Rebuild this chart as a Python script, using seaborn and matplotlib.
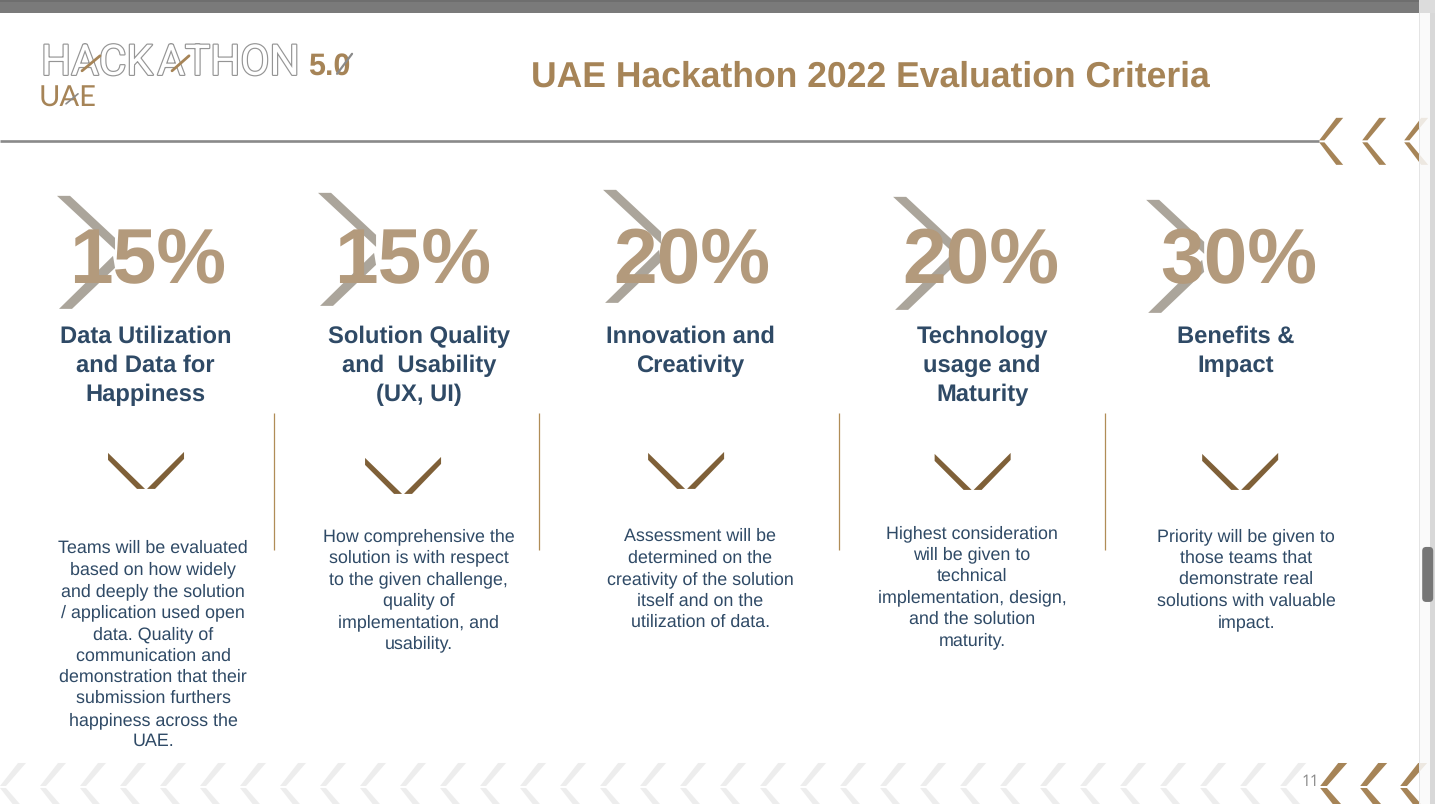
import matplotlib
matplotlib.use("Agg")
import matplotlib.pyplot as plt
import matplotlib.patheffects as pe
from matplotlib.patches import Polygon, Rectangle, FancyBboxPatch
import seaborn as sns

# ---------- data ----------
title = "UAE Hackathon 2022 Evaluation Criteria"
weights = [15, 15, 20, 20, 30]
criteria = [
    ["Data Utilization", "and Data for", "Happiness"],
    ["Solution Quality", "and  Usability", "(UX, UI)"],
    ["Innovation and", "Creativity"],
    ["Technology", "usage and", "Maturity"],
    ["Benefits &", "Impact"],
]
descriptions = [
    ["Teams will be evaluated", "based on how widely", "and deeply the solution",
     "/ application used open", "data. Quality of", "communication and",
     "demonstration that their", "submission furthers", "happiness across the", "UAE."],
    ["How comprehensive the", "solution is with respect", "to the given challenge,",
     "quality of", "implementation, and", "usability."],
    ["Assessment will be", "determined on the", "creativity of the solution",
     "itself and on the", "utilization of data."],
    ["Highest consideration", "will be given to", "technical",
     "implementation, design,", "and the solution", "maturity."],
    ["Priority will be given to", "those teams that", "demonstrate real",
     "solutions with valuable", "impact."],
]
logo_words = ["HACK", "ATHON"]
page_number = "11"

# ---------- layout ----------
W, H = 1435, 804
LOGO_X = [97, 228.5]
PCT_X = [148, 412.5, 692, 980.5, 1239]
BIG_CHEV = [(57, 196), (318, 193), (603, 190), (893, 197), (1146, 200)]
CRIT_X = [145.5, 419, 690, 982, 1236]
V_X = [146, 403, 686, 972.5, 1240]
V_Y = [452, 457, 452, 453, 453]
DESC_X = [153, 418.5, 700, 972, 1246]
DESC_Y = [553, 541, 541, 538, 541]
DIVIDERS = [274, 539, 839, 1105]

NAVY = "#2F4A66"
TAN = "#B39A7C"
GOLD = "#A68457"
BROWN = "#7F6038"
CHEV = "#ABA59B"
FONT = "Liberation Sans"

sns.set_theme(style="white")
plt.rcParams["font.family"] = [FONT, "DejaVu Sans"]
plt.rcParams["text.hinting"] = "no_hinting"

fig = plt.figure(figsize=((W + 0.2) / 100, (H + 0.2) / 100), dpi=100, facecolor="white")
ax = fig.add_axes([0, 0, 1, 1])
ax.set_xlim(0, W)
ax.set_ylim(H, 0)
ax.axis("off")
sns.despine(ax=ax, left=True, bottom=True)


def poly(pts, color, z=1, alpha=None):
    ax.add_patch(Polygon(pts, closed=True, fc=color, ec="none", zorder=z, alpha=alpha))


def chevron_left(x, top, color, w=24, h=47, t=7, z=1):
    """'<' chevron, tip on the left, small gap at the middle."""
    mid = top + h / 2
    gap = 1.0
    poly([(x + w - t, top), (x + w, top), (x + t * 0.75, mid - gap), (x, mid - gap)], color, z)
    poly([(x + w - t, top + h), (x + w, top + h), (x + t * 0.75, mid + gap), (x, mid + gap)], color, z)


# top browser bar
ax.add_patch(Rectangle((0, 0), 1419, 13, fc="#7A7A7A", ec="none", zorder=1))
ax.add_patch(Rectangle((0, 0), 1419, 2, fc="#6E6E6E", ec="none", zorder=1))

# footer watermark chevrons
for x in range(0, 1281, 40):
    chevron_left(x, 763, "#EDEDED", w=26, h=48, t=8)
# footer gold chevrons
for x in (1320, 1360, 1400):
    chevron_left(x, 763, GOLD, w=27, h=48, t=9)

# header rule and gold chevrons
ax.plot([0, 1319], [141, 141], color="#8A8A8A", lw=1.9, solid_capstyle="butt", zorder=1)
for x in (1319, 1362, 1404):
    chevron_left(x, 118, GOLD, w=24, h=47, t=7)

# logo
stroke = [pe.withStroke(linewidth=1.7, foreground="#959595")]
for lx, word in zip(LOGO_X, logo_words):
    ax.text(lx, 75, word, fontsize=30.5, family="Roboto",
            color="white", path_effects=stroke, va="baseline", ha="center", zorder=3)
ax.plot([82, 100], [71, 56], color=GOLD, lw=2, zorder=4)
ax.plot([172, 189], [71, 56], color=GOLD, lw=2, zorder=4)
ax.text(308, 75, "5.0", fontsize=22, fontweight="bold", color=GOLD,
        va="baseline", ha="left", zorder=3)
ax.plot([337, 352], [74, 54], color="#8A8A8A", lw=1.6, zorder=4)
ax.text(39, 107, "UAE", fontsize=21, family="Lato", color=GOLD, va="baseline", ha="left", zorder=3)
ax.plot([66, 78], [104, 94], color="#8A8A8A", lw=1.2, zorder=4)

# title
ax.text(870, 87, title, fontsize=25.6, fontweight="bold", color=GOLD, ha="center", va="baseline", zorder=3)

# columns
for i, w in enumerate(weights):
    x0, top = BIG_CHEV[i]
    poly([(x0, top), (x0 + 13, top), (x0 + 58, top + 42), (x0 + 58, top + 54)], CHEV, 2)
    poly([(x0 + 2, top + 113), (x0 + 15, top + 113), (x0 + 58, top + 72), (x0 + 56, top + 60)], CHEV, 2)
    ax.text(PCT_X[i], 283, f"{w}%", fontsize=56.5, fontweight="bold", color=TAN,
            ha="center", va="baseline", zorder=3)
    for j, line in enumerate(criteria[i]):
        ax.text(CRIT_X[i], 343 + 29 * j, line, fontsize=17.1, fontweight="bold", color=NAVY,
                ha="center", va="baseline", zorder=3)
    vx, vy = V_X[i], V_Y[i]
    poly([(vx - 38, vy + 1), (vx - 1, vy + 37), (vx - 9, vy + 37), (vx - 38, vy + 8)], BROWN, 2)
    poly([(vx + 38, vy), (vx + 1, vy + 37), (vx + 9, vy + 37), (vx + 38, vy + 7)], BROWN, 2)
    for j, line in enumerate(descriptions[i]):
        ax.text(DESC_X[i], DESC_Y[i] + 21.45 * j, line, fontsize=12.9, color=NAVY,
                ha="center", va="baseline", zorder=3)

# dividers
for x in DIVIDERS:
    ax.plot([x, x], [413, 550], color="#B08D57", lw=0.9, solid_capstyle="butt", zorder=1)

# page number
ax.text(1310, 786, page_number, fontsize=11.2, family="Open Sans", color="#888888",
        ha="center", va="baseline", zorder=3)

# scrollbar
ax.add_patch(Rectangle((1419, 13), 11, H - 13, fc="#FAFAFA", ec="none", alpha=0.85, zorder=5))
ax.add_patch(Rectangle((1419, 13), 1, H - 13, fc="#E4E4E4", ec="none", zorder=6))
ax.add_patch(Rectangle((1430, 13), 5, H - 13, fc="#D8D8D8", ec="none", zorder=6))
ax.add_patch(Rectangle((1419, 0), 16, 13, fc="#DCDCDC", ec="none", zorder=6))
ax.add_patch(FancyBboxPatch((1424, 549), 7, 51, boxstyle="round,pad=2,rounding_size=4",
                            fc="#767676", ec="none", zorder=7))

fig.savefig("out.png", dpi=100, facecolor="white")
